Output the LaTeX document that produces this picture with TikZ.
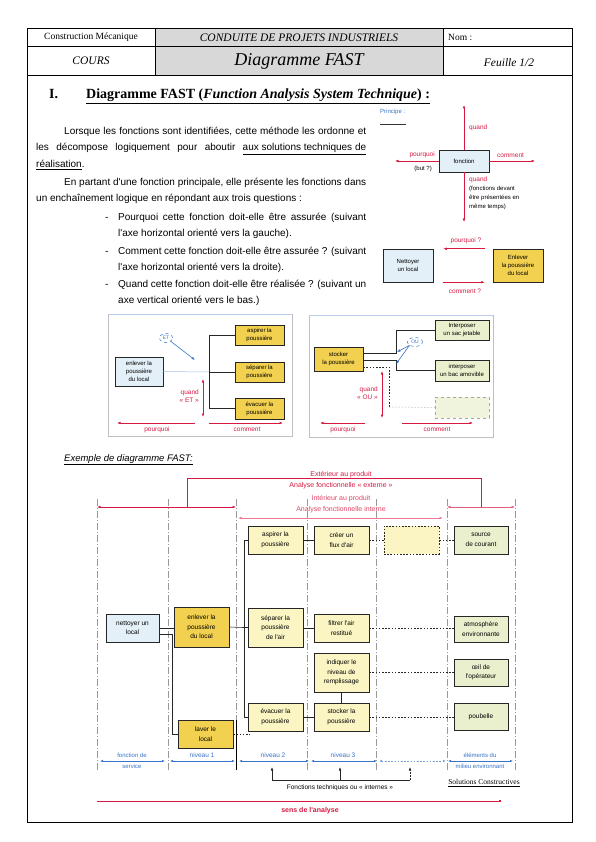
\documentclass[tikz,border=0pt]{standalone}
\usepackage{fontspec}
\setmainfont{Liberation Serif}
\newfontfamily\arial{Liberation Sans}
\usetikzlibrary{arrows.meta,calc,shapes.geometric}
\definecolor{rd}{RGB}{215,25,65}
\definecolor{pk}{RGB}{238,120,150}
\definecolor{bl}{RGB}{55,115,200}
\definecolor{gd}{RGB}{242,208,80}
\definecolor{py}{RGB}{250,245,195}
\definecolor{pg}{RGB}{234,240,205}
\definecolor{lb}{RGB}{228,240,248}
\definecolor{hg}{RGB}{216,216,216}
\newcommand\fdg{\arial\fontsize{6.5}{9.5}\selectfont}
\newcommand\fdgs{\arial\fontsize{6}{8}\selectfont}
\newcommand\fbody{\arial\fontsize{10}{16.8}\selectfont}
\tikzset{
  every node/.style={inner sep=0pt},
  bx/.style={draw=black!85, line width=0.5pt, align=center, font=\fdg},
  sbx/.style={draw=black!85, line width=0.5pt, align=center, font=\fdgs},
  tipr/.style={-{Latex[length=3.5pt,width=2.6pt]}},
  tipd/.style={{Latex[length=3.5pt,width=2.6pt]}-{Latex[length=3.5pt,width=2.6pt]}},
  rarr/.style={draw=rd, line width=0.6pt, tipr},
  rdbl/.style={draw=rd, line width=0.6pt, tipd},
  barr/.style={draw=bl, line width=0.6pt, tipr},
  bdbl/.style={draw=bl, line width=0.6pt, {Latex[length=3pt,width=2.4pt]}-{Latex[length=3pt,width=2.4pt]}},
  link/.style={draw=black!85, line width=0.6pt},
  dotl/.style={draw=black!85, line width=0.6pt, dash pattern=on 1.6pt off 1.6pt},
  guide/.style={draw=black!40, line width=0.4pt, dash pattern=on 7pt off 2pt on 1pt off 2pt},
  rlab/.style={text=rd, font=\arial\fontsize{6.5}{8}\selectfont},
  klab/.style={text=black, font=\arial\fontsize{6}{9}\selectfont},
  blab/.style={text=bl, font=\arial\fontsize{6.5}{8}\selectfont},
  elab/.style={text=rd, font=\arial\fontsize{7}{8}\selectfont, fill=white, inner xsep=2pt},
  hdtxt/.style={font=\fontsize{9.5}{10}\selectfont},
  hdit/.style={font=\itshape\fontsize{11.5}{12}\selectfont},
}
\begin{document}
\begin{tikzpicture}[x=1pt,y=-1pt]
\useasboundingbox (0,0) rectangle (595,842);
\fill[white] (0,0) rectangle (595,842);

% ---------- header ----------
\fill[hg] (155,28) rectangle (443,75);
\draw[line width=0.6pt] (27,28) rectangle (572,822);
\draw[line width=0.6pt] (27,46.5) -- (572,46.5) (27,75) -- (572,75) (155,28) -- (155,75) (443,28) -- (443,75);
\draw[line width=1.4pt] (27,822.5) -- (572.5,822.5) -- (572.5,28);
\node[hdtxt] (h1) at (91,37.5) {Construction Mécanique};
\node[hdit] (h2) at (299,37.5) {CONDUITE DE PROJETS INDUSTRIELS};
\node[hdtxt, anchor=west] (h3) at (448,37.5) {Nom :};
\node[hdit] (h4) at (91,61) {COURS};
\node[font=\itshape\fontsize{18}{19}\selectfont] (h5) at (299,61) {Diagramme FAST};
\node[hdit] (h6) at (509,63) {Feuille 1/2};

% ---------- title & text ----------
\node[anchor=base west, font=\bfseries\fontsize{14}{16}\selectfont] (t0) at (49,99) {I.};
\node[anchor=base west, font=\bfseries\fontsize{14}{16}\selectfont] (t1) at (86,99) {\underline{Diagramme FAST (\textit{Function Analysis System Technique}) :}};

\node[anchor=north west, text width=330pt, align=justify, font=\fbody] (p1) at (36,126.6)
 {\hspace*{28pt}Lorsque les fonctions sont identifiées, cette méthode les ordonne et\linebreak les décompose logiquement pour aboutir \underline{aux solutions techniques de}\linebreak \underline{réalisation}.};
\node[anchor=north west, text width=330pt, align=justify, font=\fbody] (p2) at (36,177.6)
 {\hspace*{28pt}En partant d'une fonction principale, elle présente les fonctions dans\linebreak un enchaînement logique en répondant aux trois questions :};
\node[anchor=base west, font=\fbody] (d1) at (105,220) {-};
\node[anchor=north west, text width=248pt, align=justify, font=\fbody] (q1) at (118,212.6)
 {Pourquoi cette fonction doit-elle être assurée (suivant\linebreak l'axe horizontal orienté vers la gauche).};
\node[anchor=base west, font=\fbody] (d2) at (105,254) {-};
\node[anchor=north west, text width=248pt, align=justify, font=\fbody] (q2) at (118,246.6)
 {Comment cette fonction doit-elle être assurée ? (suivant\linebreak l'axe horizontal orienté vers la droite).};
\node[anchor=base west, font=\fbody] (d3) at (105,287) {-};
\node[anchor=north west, text width=248pt, align=justify, font=\fbody] (q3) at (118,279.6)
 {Quand cette fonction doit-elle être réalisée ? (suivant un\linebreak axe vertical orienté vers le bas.)};

% ---------- principe ----------
\node[blab, font=\arial\fontsize{6}{7}\selectfont, anchor=west] (pr) at (380,112) {Principe :};
\draw[line width=0.8pt, black!80] (380,124.5) -- (406,124.5);
\node[sbx, fill=lb, minimum width=50pt, minimum height=22pt] (fonc) at (464,161) {fonction};
\coordinate (pu) at (464,105);
\coordinate (pd) at (464,222);
\coordinate (pl) at (395,161);
\coordinate (pri) at (535,161);
\draw[rarr] (fonc.north) -- (pu);
\draw[rarr] (fonc.south) -- (pd);
\draw[rarr] (fonc.west) -- (pl);
\draw[rarr] (fonc.east) -- (pri);
\node[rlab, anchor=east] at (435,155) {pourquoi};
\node[klab, anchor=east] at (432,168.5) {(but ?)};
\node[rlab, anchor=west] at (497,155) {comment};
\node[rlab, anchor=west] at (469,128) {quand};
\node[rlab, anchor=west] at (469,180) {quand};
\node[klab, anchor=north west, align=left] at (469,186) {(fonctions devant\\être présentées en\\même temps)};

\node[sbx, fill=lb, minimum width=50pt, minimum height=33pt] (nl) at (408,265.5) {Nettoyer\\un local};
\node[sbx, fill=gd, minimum width=50pt, minimum height=33pt] (el) at (518,265.5) {Enlever\\la poussière\\du local};
\draw[rarr] ($(el.north west)+(-8,0)$) -- ($(nl.north east)+(10,0)$);
\draw[rarr] ($(nl.south east)+(10,0)$) -- ($(el.south west)+(-8,0)$);
\node[rlab] at (466,241) {pourquoi ?};
\node[rlab] at (465,291.5) {comment ?};

% ---------- diagram ET ----------
\draw[black!25, line width=0.5pt] (108,314) rectangle (292,436);
\draw[bl!35, line width=0.8pt] (108,314) -- (292,314);
\node[sbx, fill=lb, minimum width=48pt, minimum height=29pt] (e1) at (139,371.5) {enlever la\\poussière\\du local};
\node[sbx, fill=gd, minimum width=49pt, minimum height=20pt] (a1) at (259.5,335) {aspirer la\\poussière};
\node[sbx, fill=gd, minimum width=49pt, minimum height=20pt] (s1) at (259.5,372) {séparer la\\poussière};
\node[sbx, fill=gd, minimum width=49pt, minimum height=21pt] (v1) at (259.5,408.5) {évacuer la\\poussière};
\coordinate (j2) at (209,372);
\draw[bl!45, line width=0.5pt] (e1.east) -- (j2);
\draw[link] (a1.west) -| (j2);
\draw[link] (v1.west) -| (j2);
\draw[link] (s1.west) -- (j2);
\node[ellipse, draw=bl, dashed, line width=0.5pt, minimum width=13pt, minimum height=9pt, text=bl, font=\arial\fontsize{5}{6}\selectfont] (et) at (166,338) {ET};
\coordinate (etp) at (195,360);
\draw[barr] (et.south east) -- (etp);
\coordinate (qa) at (203,379);
\coordinate (qb) at (203,417);
\draw[rdbl] (qa) -- (qb);
\node[rlab, align=right, anchor=east] at (199,396.5) {quand\\« ET »};
\coordinate (pa1) at (195,423);
\coordinate (pa2) at (117,423);
\coordinate (ca1) at (209,423);
\coordinate (ca2) at (283,423);
\draw[rarr] (pa1) -- (pa2);
\draw[rarr] (ca1) -- (ca2);
\node[rlab] at (157,429.5) {pourquoi};
\node[rlab] at (247,429.5) {comment};

% ---------- diagram OU ----------
\draw[black!25, line width=0.5pt] (309,315) rectangle (493,437);
\draw[bl!35, line width=0.8pt] (309,315) -- (493,315);
\node[sbx, fill=gd, minimum width=49pt, minimum height=24pt] (st) at (338.5,359) {stocker\\la poussière};
\node[sbx, fill=pg, minimum width=54pt, minimum height=20pt] (i1) at (462,330) {Interposer\\un sac jetable};
\node[sbx, fill=pg, minimum width=54pt, minimum height=21pt] (i2) at (462,370.5) {interposer\\un bac amovible};
\node[draw=black!35, dashed, fill=pg!70, line width=0.5pt, minimum width=54pt, minimum height=21pt] (i3) at (462,407.5) {};
\draw[link] ($(st.east)+(0,-6)$) -| (396,330) -- (i1.west);
\draw[link] ($(st.east)+(0,1)$) -| (396,370.5) -- (i2.west);
\draw[dotl] ($(st.east)+(0,8)$) -| (389,407);
\draw[black!25, dash pattern=on 1.6pt off 1.6pt, line width=0.5pt] (389,407) -- (i3.west);
\node[ellipse, draw=bl, dashed, line width=0.5pt, minimum width=15pt, minimum height=9pt, text=bl, font=\arial\fontsize{5}{6}\selectfont] (ou) at (415,342) {OU};
\coordinate (oua) at (397,352);
\coordinate (oub) at (396,364);
\draw[barr] (ou.south west) -- (oua);
\draw[barr] (ou.south west) -- (oub);
\coordinate (qc) at (382,371);
\coordinate (qd) at (382,418);
\draw[rdbl] (qc) -- (qd);
\node[rlab, align=right, anchor=east] at (378,393.5) {quand\\« OU »};
\coordinate (pb1) at (365,423);
\coordinate (pb2) at (320,423);
\coordinate (cb1) at (402,423);
\coordinate (cb2) at (473,423);
\draw[rarr] (pb1) -- (pb2);
\draw[rarr] (cb1) -- (cb2);
\node[rlab] at (343,429.5) {pourquoi};
\node[rlab] at (437,429.5) {comment};

% ---------- example ----------
\node[anchor=base west, font=\arial\itshape\fontsize{9.5}{11}\selectfont] (ex) at (64,461) {\underline{Exemple de diagramme FAST:}};

\foreach \gx in {97,168,236,307,376,447,515}
  \draw[guide] (\gx,499) -- (\gx,770);
\draw[black, line width=0.7pt] (236,720) -- (236,770);

\draw[rd, line width=0.6pt] (187,507) -- (187,478) -- (481,478) -- (481,507);
\node[elab] (ext1) at (341,475) {Extérieur au produit};
\node[elab, fill=none] (ext2) at (341,485.5) {Analyse fonctionnelle « externe »};
\node[elab, fill=none, text=rd!80] (int1) at (341,499) {Intérieur au produit};
\node[elab, fill=none, text=rd!80] (int2) at (341,509.5) {Analyse fonctionnelle interne};
\draw[rdbl] (97,507) -- (236,507);
\draw[rdbl, draw=rd!70] (447,507) -- (515,507);
\draw[pk, line width=0.8pt, tipd] (238,518) -- (443,518);

\node[bx, fill=lb, minimum width=53pt, minimum height=28pt] (n) at (132.5,628) {nettoyer un\\local};
\node[bx, fill=gd, minimum width=55pt, minimum height=40pt] (en) at (201.5,627) {enlever la\\poussière\\du local};
\node[bx, fill=gd, minimum width=55pt, minimum height=28pt] (lv) at (205.5,734) {laver le\\local};
\node[bx, fill=py, minimum width=55pt, minimum height=28pt] (asp) at (275.5,540) {aspirer la\\poussière};
\node[bx, fill=py, minimum width=55pt, minimum height=39pt] (sep) at (275.5,627.5) {séparer la\\poussière\\de l'air};
\node[bx, fill=py, minimum width=55pt, minimum height=28pt] (eva) at (275.5,717) {évacuer la\\poussière};
\node[bx, fill=py, minimum width=55pt, minimum height=28pt] (cre) at (341.5,540) {créer un\\flux d'air};
\node[bx, fill=py, minimum width=55pt, minimum height=28pt] (fil) at (341.5,628) {filtrer l'air\\restitué};
\node[bx, fill=py, minimum width=55pt, minimum height=39pt] (ind) at (341.5,672.5) {indiquer le\\niveau de\\remplissage};
\node[bx, fill=py, minimum width=55pt, minimum height=28pt] (sto) at (341.5,717) {stocker la\\poussière};
\node[draw=black!85, dash pattern=on 1.6pt off 1.6pt, line width=0.6pt, fill=py, minimum width=55pt, minimum height=28pt] (dsh) at (411.5,540) {};
\node[bx, fill=pg, minimum width=54pt, minimum height=28pt] (src) at (481,540) {source\\de courant};
\node[bx, fill=pg, minimum width=54pt, minimum height=26pt] (atm) at (481,629) {atmosphère\\environnante};
\node[bx, fill=pg, minimum width=54pt, minimum height=27pt] (oei) at (481,672.5) {œil de\\l'opérateur};
\node[bx, fill=pg, minimum width=54pt, minimum height=27pt] (pou) at (481,716.5) {poubelle};

\draw[link] (n.east) -- (en.west |- n.east);
\draw[link] ($(n.east)+(0,6)$) -| (172,734) -- (lv.west);
\coordinate (t1) at (244,627.5);
\draw[link] (en.east) -- (t1);
\draw[link] (asp.west) -| (t1);
\draw[link] (eva.west) -| (t1);
\draw[link] (sep.west) -- (t1);
\draw[link] (asp.east) -- (cre.west);
\draw[link] (sep.east |- fil.west) -- (fil.west);
\draw[link] (eva.east) -- (sto.west);
\draw[link] (ind.south) -- (sto.north);
\draw[dotl] (cre.east) -- (dsh.west);
\draw[dotl] (dsh.east) -- (src.west);
\draw[dotl] (fil.east) -- (fil.east -| atm.west);
\draw[dotl] (ind.east) -- (ind.east -| oei.west);
\draw[dotl] (sto.east) -- (sto.east -| pou.west);
\draw[dotl] (lv.east) -- ($(lv.east)+(17,0)$);

% levels
\draw[bdbl] (100,761) -- (165,761);
\draw[bdbl] (170,761) -- (235,761);
\draw[bdbl] (239,761) -- (309,761);
\draw[bdbl] (311,761) -- (377,761);
\draw[bdbl, dash pattern=on 1.6pt off 1.6pt, draw=bl!70] (379,761) -- (446,761);
\draw[bdbl] (448,761) -- (513,761);
\node[blab, font=\arial\fontsize{6}{7}\selectfont] at (132,755) {fonction de};
\node[blab, font=\arial\fontsize{6}{7}\selectfont] at (132,766.5) {service};
\node[blab] at (202,755) {niveau 1};
\node[blab] at (273,755) {niveau 2};
\node[blab] at (343,755) {niveau 3};
\node[blab, font=\arial\fontsize{6}{7}\selectfont] at (480,755) {éléments du};
\node[blab, font=\arial\fontsize{6}{7}\selectfont] at (480,766.5) {milieu environnant};

\coordinate (fa) at (272,767);
\coordinate (fb) at (340,767);
\coordinate (fc) at (410,767);
\draw[black!85, line width=0.6pt] (272,780) -- (410,780);
\draw[black!85, line width=0.6pt, tipr] (272,780) -- (fa);
\draw[black!85, line width=0.6pt, tipr] (340,780) -- (fb);
\draw[black!85, line width=0.6pt, tipr, dash pattern=on 1.6pt off 1.6pt] (410,780) -- (fc);
\node[font=\arial\fontsize{6.5}{8}\selectfont] at (340,787.5) {Fonctions techniques ou « internes »};
\node[font=\fontsize{7.5}{9}\selectfont] at (484,783) {\underline{Solutions Constructives}};

\draw[rd, line width=0.8pt, -{Square[length=2.4pt,width=2.4pt]}] (97,801) -- (501,801);
\node[text=rd, font=\arial\bfseries\fontsize{7}{8}\selectfont] at (310,811) {sens de l'analyse};
\end{tikzpicture}
\end{document}
